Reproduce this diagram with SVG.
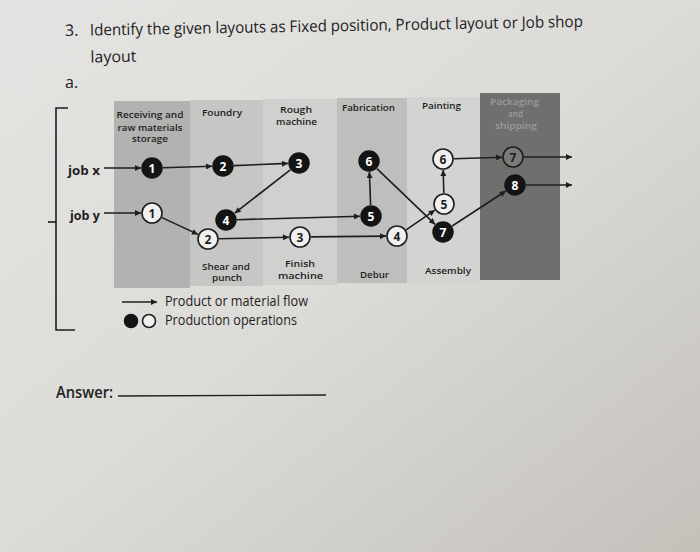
<svg xmlns="http://www.w3.org/2000/svg" width="700" height="552" viewBox="0 0 700 552">
<defs>
<linearGradient id="paper" x1="0" y1="0" x2="1" y2="1">
<stop offset="0" stop-color="#e4e4e2"/>
<stop offset="0.5" stop-color="#dcdbd8"/>
<stop offset="1" stop-color="#c4c1bb"/>
</linearGradient>
<marker id="ah" viewBox="0 0 10 10" refX="10" refY="5" markerWidth="7" markerHeight="6" markerUnits="userSpaceOnUse" orient="auto">
<path d="M0,0 L10,5 L0,10 z" fill="#1e1e1e"/>
</marker>
<style>
.q{font-family:"Open Sans","Liberation Sans",sans-serif;fill:#222222;font-size:16px}
.lbl{font-family:"Open Sans","Liberation Sans",sans-serif;font-weight:600;fill:#1e1e1e;font-size:9.5px;text-anchor:middle}
.lblp{font-family:"Open Sans","Liberation Sans",sans-serif;font-weight:600;fill:#9c9c9c;font-size:9.5px;text-anchor:middle}
.job{font-family:"Open Sans","Liberation Sans",sans-serif;font-weight:700;fill:#1e1e1e;font-size:13px}
.leg{font-family:"Open Sans","Liberation Sans",sans-serif;fill:#1e1e1e;font-size:14px}
.ln{stroke:#1e1e1e;stroke-width:1.6;fill:none}
.fl{stroke:#1e1e1e;stroke-width:1.6;fill:none;marker-end:url(#ah)}
.cf{fill:#141414;stroke:#141414;stroke-width:1.5}
.co{fill:#f0f0ee;stroke:#1e1e1e;stroke-width:1.6}
.nf{font-family:"Open Sans","Liberation Sans",sans-serif;font-weight:700;font-size:12px;fill:#ffffff;text-anchor:middle}
.no{font-family:"Open Sans","Liberation Sans",sans-serif;font-weight:700;font-size:12px;fill:#1e1e1e;text-anchor:middle}
</style>
</defs>
<rect x="0" y="0" width="700" height="552" fill="url(#paper)"/>

<g id="title">
<g transform="rotate(-1 65 36)">
<text class="q" x="65" y="36">3.</text>
<text class="q" x="90" y="36" textLength="493" lengthAdjust="spacingAndGlyphs">Identify the given layouts as Fixed position, Product layout or Job shop</text>
<text class="q" x="90" y="63">layout</text>
</g>
<text class="q" x="65" y="88" font-size="15">a.</text>
</g>

<g id="bracket">
<path class="ln" d="M68,108 L56,108 L56,330 L75,330"/>
<line class="ln" x1="48" y1="222" x2="56" y2="222"/>
</g>

<g id="panel">
<rect x="114" y="101" width="76" height="187" fill="#b2b2b0"/>
<rect x="190" y="100" width="73" height="186" fill="#c6c6c4"/>
<rect x="263" y="99" width="74" height="186" fill="#d0d0ce"/>
<rect x="337" y="98" width="70" height="185" fill="#bebebc"/>
<rect x="407" y="97" width="73" height="186" fill="#d3d3d1"/>
<rect x="480" y="93" width="80" height="187" fill="#6f6f6d"/>
</g>

<g id="headers">
<text class="lbl" x="150" y="118" textLength="67" lengthAdjust="spacingAndGlyphs">Receiving and</text>
<text class="lbl" x="150" y="130.5" textLength="65" lengthAdjust="spacingAndGlyphs">raw materials</text>
<text class="lbl" x="150" y="142" textLength="36" lengthAdjust="spacingAndGlyphs">storage</text>
<text class="lbl" x="222" y="115.5" textLength="40" lengthAdjust="spacingAndGlyphs">Foundry</text>
<text class="lbl" x="296" y="112.5" textLength="32" lengthAdjust="spacingAndGlyphs">Rough</text>
<text class="lbl" x="296.5" y="124.5" textLength="41" lengthAdjust="spacingAndGlyphs">machine</text>
<text class="lbl" x="368.5" y="111" textLength="53" lengthAdjust="spacingAndGlyphs">Fabrication</text>
<text class="lbl" x="441.5" y="109" textLength="39" lengthAdjust="spacingAndGlyphs">Painting</text>
<text class="lblp" x="514.5" y="105" textLength="49" lengthAdjust="spacingAndGlyphs">Packaging</text>
<text class="lblp" x="515.5" y="117" textLength="15" lengthAdjust="spacingAndGlyphs">and</text>
<text class="lblp" x="516" y="128.5" textLength="42" lengthAdjust="spacingAndGlyphs">shipping</text>
<text class="lbl" x="226" y="269.5" textLength="48" lengthAdjust="spacingAndGlyphs">Shear and</text>
<text class="lbl" x="227" y="281" textLength="30" lengthAdjust="spacingAndGlyphs">punch</text>
<text class="lbl" x="300" y="267" textLength="30" lengthAdjust="spacingAndGlyphs">Finish</text>
<text class="lbl" x="300.5" y="278.5" textLength="45" lengthAdjust="spacingAndGlyphs">machine</text>
<text class="lbl" x="374.5" y="277.5" textLength="29" lengthAdjust="spacingAndGlyphs">Debur</text>
<text class="lbl" x="448" y="274" textLength="46" lengthAdjust="spacingAndGlyphs">Assembly</text>
</g>

<g id="jobs">
<text class="job" x="68" y="175" textLength="32" lengthAdjust="spacingAndGlyphs">job x</text>
<text class="job" x="70" y="220" textLength="30" lengthAdjust="spacingAndGlyphs">job y</text>
</g>

<g id="connectors">
<line class="fl" x1="104" y1="168" x2="141" y2="168"/>
<line class="fl" x1="163" y1="167.7" x2="212" y2="166.3"/>
<line class="fl" x1="234" y1="165.6" x2="288" y2="163.4"/>
<line class="fl" x1="290.3" y1="169.8" x2="234.7" y2="213.2"/>
<line class="fl" x1="237" y1="219.7" x2="360" y2="216.3"/>
<line class="fl" x1="370.6" y1="205" x2="369.4" y2="172"/>
<line class="fl" x1="376.9" y1="168.6" x2="435.1" y2="224.4"/>
<line class="fl" x1="452.2" y1="226" x2="505.8" y2="191"/>
<line class="fl" x1="526" y1="185" x2="572" y2="185"/>
<line class="fl" x1="104" y1="213" x2="141" y2="213"/>
<line class="fl" x1="162" y1="217.6" x2="198" y2="234.4"/>
<line class="fl" x1="219" y1="238.8" x2="289" y2="237.2"/>
<line class="fl" x1="311" y1="236.9" x2="386" y2="236.1"/>
<line class="fl" x1="406.1" y1="229.8" x2="434.9" y2="210.2"/>
<line class="fl" x1="443.8" y1="193" x2="443.2" y2="170"/>
<line class="fl" x1="454" y1="158.7" x2="502" y2="157.3"/>
<line class="fl" x1="524" y1="157" x2="572" y2="157"/>
</g>

<g id="node-x1"><circle class="cf" cx="152" cy="168" r="10"/><text class="nf" x="152" y="172.5">1</text></g>
<g id="node-x2"><circle class="cf" cx="223" cy="166" r="10"/><text class="nf" x="223" y="170.5">2</text></g>
<g id="node-x3"><circle class="cf" cx="299" cy="163" r="10"/><text class="nf" x="299" y="167.5">3</text></g>
<g id="node-x4"><circle class="cf" cx="226" cy="220" r="10"/><text class="nf" x="226" y="224.5">4</text></g>
<g id="node-x5"><circle class="cf" cx="371" cy="216" r="10"/><text class="nf" x="371" y="220.5">5</text></g>
<g id="node-x6"><circle class="cf" cx="369" cy="161" r="10"/><text class="nf" x="369" y="165.5">6</text></g>
<g id="node-x7"><circle class="cf" cx="443" cy="232" r="10"/><text class="nf" x="443" y="236.5">7</text></g>
<g id="node-x8"><circle class="cf" cx="515" cy="185" r="10" fill="#2a2a2a"/><text class="nf" x="515" y="189.5">8</text></g>

<g id="node-y1"><circle class="co" cx="152" cy="213" r="10"/><text class="no" x="152" y="217.5">1</text></g>
<g id="node-y2"><circle class="co" cx="208" cy="239" r="10"/><text class="no" x="208" y="243.5">2</text></g>
<g id="node-y3"><circle class="co" cx="300" cy="237" r="10"/><text class="no" x="300" y="241.5">3</text></g>
<g id="node-y4"><circle class="co" cx="397" cy="236" r="10"/><text class="no" x="397" y="240.5">4</text></g>
<g id="node-y5"><circle class="co" cx="444" cy="204" r="10"/><text class="no" x="444" y="208.5">5</text></g>
<g id="node-y6"><circle class="co" cx="443" cy="159" r="10"/><text class="no" x="443" y="163.5">6</text></g>
<g id="node-y7"><circle cx="513" cy="157" r="10" fill="#7a7a78" stroke="#1e1e1e" stroke-width="1.6"/><text class="no" x="513" y="161.5" fill="#2a2a2a">7</text></g>

<g id="legend">
<line class="fl" x1="122" y1="302" x2="157" y2="302"/>
<text class="leg" x="165" y="306" textLength="143" lengthAdjust="spacingAndGlyphs">Product or material flow</text>
<circle class="cf" cx="131" cy="321" r="6.5"/>
<circle class="co" cx="149" cy="321" r="6.5"/>
<text class="leg" x="165" y="325" textLength="132" lengthAdjust="spacingAndGlyphs">Production operations</text>
</g>

<g id="answer">
<text class="q" x="56" y="398" font-size="14.5" font-weight="600" textLength="57" lengthAdjust="spacingAndGlyphs">Answer:</text>
<line x1="118" y1="396" x2="326" y2="395" stroke="#1e1e1e" stroke-width="1.4"/>
</g>
</svg>
